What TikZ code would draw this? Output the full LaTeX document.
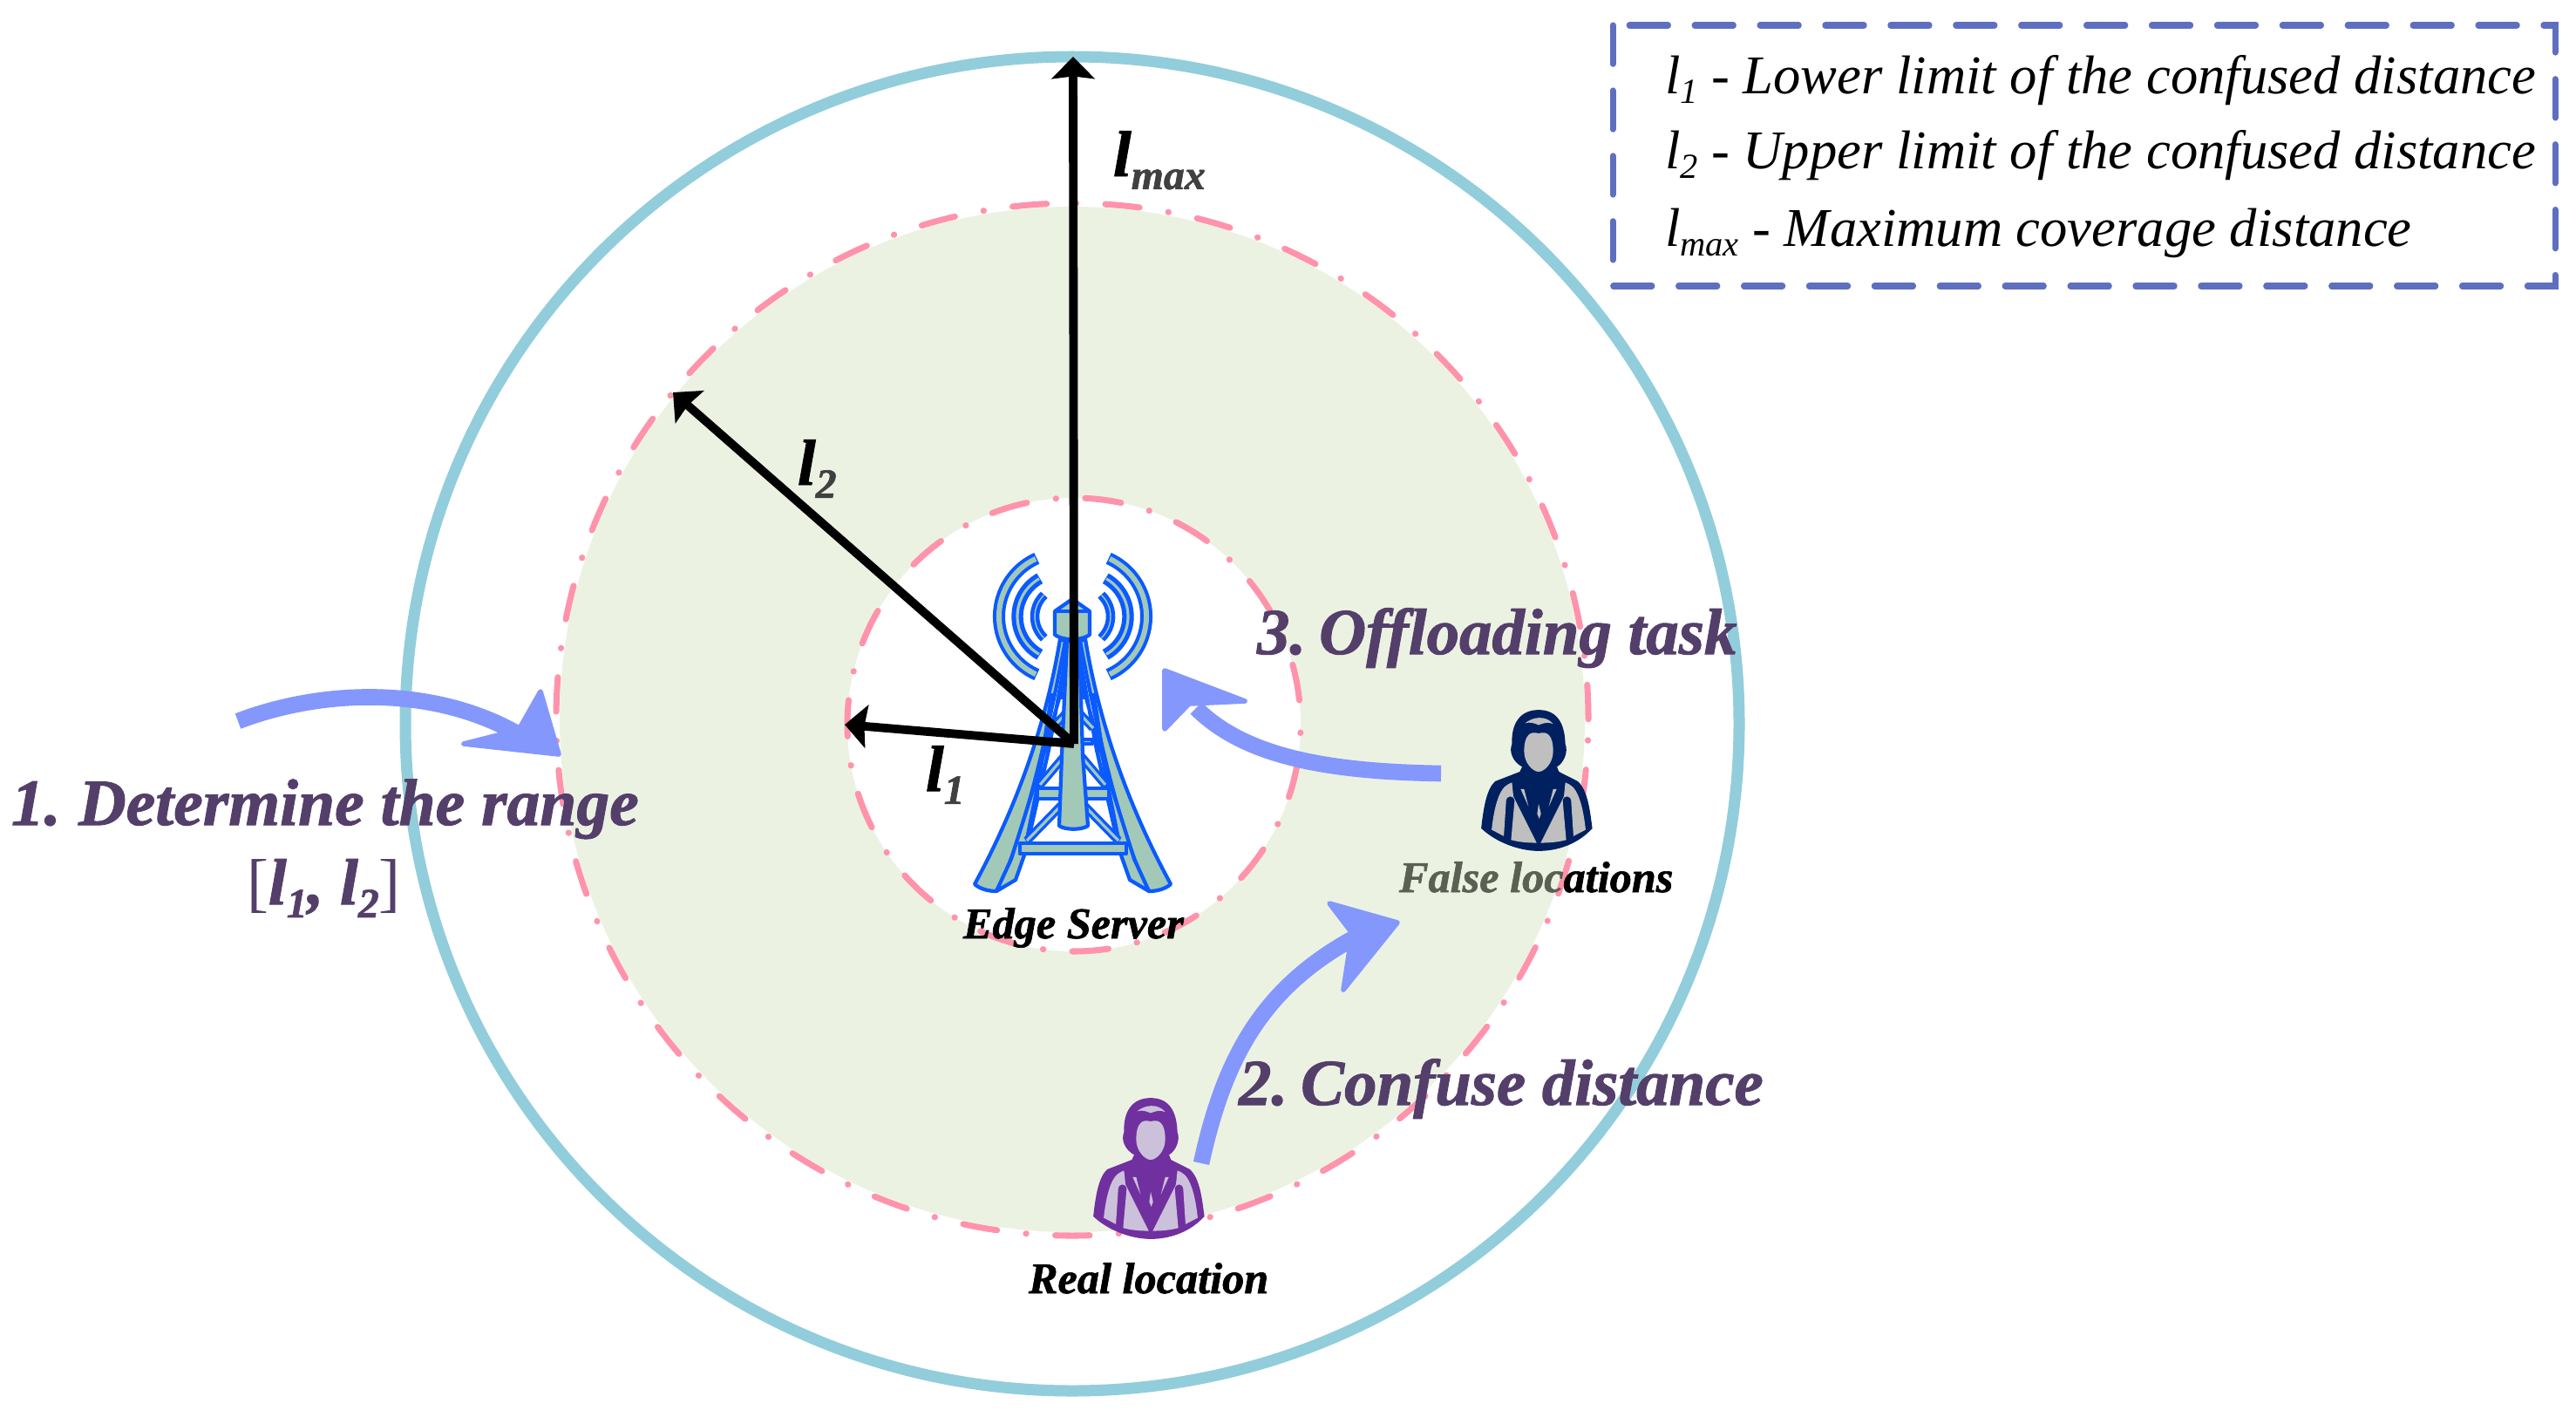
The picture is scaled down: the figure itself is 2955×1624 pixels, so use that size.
\documentclass[tikz,border=0pt]{standalone}
\usepackage{fontspec}
\setmainfont[BoldItalicFeatures={FakeBold=1.3}]{Liberation Serif}
\usetikzlibrary{arrows.meta}
\definecolor{ringblue}{HTML}{92CDDC}
\definecolor{ringpink}{HTML}{FF93AC}
\definecolor{zonegreen}{HTML}{ECF2E2}
\definecolor{flowblue}{HTML}{8497FC}
\definecolor{stepink}{HTML}{543F6B}
\definecolor{legendblue}{HTML}{5F6FBF}
\definecolor{subgrey}{HTML}{404040}
\definecolor{towerblue}{HTML}{0A5AFF}
\definecolor{towergreen}{HTML}{A2C8B8}
\definecolor{navyman}{HTML}{002060}
\definecolor{greyman}{HTML}{BFBFBF}
\definecolor{purpleman}{HTML}{7030A0}
\definecolor{lilacman}{HTML}{CCC1DA}
\definecolor{falsegrey}{HTML}{5A6052}
\tikzset{
  txt/.style={inner sep=0pt,outer sep=0pt,anchor=base west},
  stepfont/.style={txt,text=stepink,font=\fontsize{21.3}{25}\selectfont\bfseries\itshape},
  tagfont/.style={txt,text=black,font=\fontsize{14.3}{18}\selectfont\bfseries\itshape},
  legfont/.style={txt,text=black,font=\fontsize{17.8}{22}\selectfont\itshape},
  radius arrow/.style={line width=2.8pt,-{Stealth[length=7.2pt,width=14pt,inset=.8pt]}},
  flow/.style={line width=5.3pt,flowblue},
  flowhead/.style={fill=flowblue,draw=flowblue,line width=1.6pt,line join=round},
  tw/.style={fill=towergreen,draw=towerblue,line width=1.2pt,line join=round},
  twb/.style={draw=towerblue,line width=1.2pt},
}
\newcommand{\syml}[1]{\textbf{\textit{l}}{\raisebox{-.2em}{\fontsize{13.6}{15}\selectfont\bfseries\itshape\color{subgrey}#1}}}
\newcommand{\legl}[1]{\textit{l}{\raisebox{-.18em}{\fontsize{11.5}{13}\selectfont\itshape #1}}}
\newcommand{\stepl}[1]{\textbf{\textit{l}}{\raisebox{-.2em}{\fontsize{13.6}{15}\selectfont\bfseries\itshape #1}}}
\newcommand{\towerhalf}{%
  \path[tw] (1216,733) .. controls (1205,800) and (1180,900) .. (1118,1014)
    .. controls (1125,1020) and (1135,1022) .. (1143,1022)
    .. controls (1165,985) and (1195,880) .. (1222,735) -- cycle;
  \path[tw] (1143,1022) -- (1165,1009) -- (1177,975) -- (1203,860) -- (1224,745) -- (1218,790) -- (1190,890) -- (1160,985) -- cycle;
  \draw[twb,line width=1.4pt] (1207,795) -- (1190,904) -- (1178,964);
  \foreach \ax/\ay/\bx/\by in {1178/964/1217/924,1193/900/1222/866,1207/835/1223/818}{
    \draw[towerblue,line width=2.8pt] (\ax,\ay) -- (\bx,\by);
    \draw[towergreen,line width=.9pt] (\ax,\ay) -- (\bx,\by);
  }
  \path[tw] (1190,904) rectangle (1218,916);
  \path[tw] (1240,848) rectangle (1253,853);
  \path[tw] (1217,795) rectangle (1226,800);
  \foreach \cx/\r/\a/\w/\g in {1219/73/66/4/1.7,1217/50/61/3.8/.9,1221/34/47/3/.4}{
    \draw[towerblue,line width=\w pt] (\cx,707) ++(180-\a:\r) arc[start angle=180-\a,end angle=180+\a,radius=\r];
    \draw[towergreen,line width=\g pt] (\cx,707) ++(181-\a:\r) arc[start angle=181-\a,end angle=179+\a,radius=\r];
  }
}
\newcommand{\personfig}[4]{%
  \begin{scope}[shift={(#1,#2)},x=0.00333cm,y=-0.00333cm,shift={(-255,-300)}]
    \fill[#3] (255,72) .. controls (320,72) and (345,120) .. (347,190)
      .. controls (358,215) and (342,255) .. (318,268) -- (325,285)
      -- (390,318) .. controls (425,350) and (432,420) .. (440,480)
      .. controls (390,535) and (320,558) .. (255,558)
      .. controls (190,558) and (110,530) .. (57,480)
      .. controls (65,410) and (75,345) .. (105,318) -- (190,285) -- (198,268)
      .. controls (165,250) and (152,215) .. (163,190)
      .. controls (160,120) and (190,72) .. (255,72) -- cycle;
    \fill[#4] (255,153) .. controls (285,143) and (305,160) .. (305,215)
      .. controls (305,255) and (275,285) .. (255,285)
      .. controls (235,285) and (205,255) .. (205,215)
      .. controls (205,160) and (225,143) .. (255,153) -- cycle;
    \fill[#4] (208,118) .. controls (235,95) and (280,90) .. (305,120)
      .. controls (285,112) and (270,118) .. (255,124) .. controls (240,118) and (225,112) .. (208,118) -- cycle;
    \foreach \sx/\sc in {1/0,-1/510}{
      \begin{scope}[xscale=\sx,shift={(\sc*\sx,0)}]
        \fill[#4] (150,328) .. controls (115,345) and (100,420) .. (93,485)
          -- (135,507) -- (143,385) .. controls (145,365) and (170,365) .. (172,385)
          -- (160,520) .. controls (190,528) and (220,530) .. (248,530) -- (168,370) -- (163,322) -- cycle;
        \fill[#4] (193,345) -- (205,345) -- (220,405) -- cycle;
      \end{scope}
    }
    \fill[#4] (255,395) -- (263,430) -- (257,447) -- (250,430) -- cycle;
  \end{scope}
}
\begin{document}
\begin{tikzpicture}[x=0.01cm,y=-0.01cm]
\useasboundingbox (0,0) rectangle (2955,1624);
\fill[white] (0,0) rectangle (2955,1624);
% named anchors
\coordinate (hub) at (1232,853);
\coordinate (tipmax) at (1231,65);
\coordinate (tiptwo) at (772,450);
\coordinate (tipone) at (969,831);
% rings
\draw[ringblue,line width=3.7pt] (1230,830) circle[radius=765];
\path[fill=zonegreen] (1230,825) circle[radius=588];
\draw[ringpink,line width=2pt,line cap=round,dash pattern=on 11.2pt off 9.5pt on .1pt off 9.5pt,dash phase=13.9pt] (1230,825) circle[radius=592];
\path[fill=white] (1232,831) circle[radius=260];
\draw[ringpink,line width=2pt,line cap=round,dash pattern=on 11.8pt off 9.5pt on .1pt off 9.5pt,dash phase=18.7pt] (1232,831) circle[radius=260];
% tower
\towerhalf
\begin{scope}[shift={(2461,0)},xscale=-1]
\towerhalf
\end{scope}
\path[tw] (1170,967) rectangle (1292,979);
\path[tw] (1244,904) rectangle (1272,916);
\path[tw] (1224,735) -- (1218,866) -- (1215,947) .. controls (1222,952) and (1241,952) .. (1248,947) -- (1242,866) -- (1238,735) -- cycle;
\path[tw] (1210,701) -- (1230,687) -- (1250,701) -- (1250,728) .. controls (1240,735) and (1220,735) .. (1210,728) -- cycle;
\draw[twb] (1210,701) -- (1250,701);
% people
\personfig{1765}{890}{navyman}{greyman}
\personfig{1320}{1335}{purpleman}{lilacman}
% flow arrows
\draw[flow] (273,827) .. controls (370,790) and (500,785) .. (600,845);
\path[flowhead] (641,865) -- (620,793) -- (595,837) -- (532,853) -- cycle;
\draw[flow] (1653,887) .. controls (1530,885) and (1430,870) .. (1372,812);
\path[flowhead] (1336,769) -- (1428,804) -- (1364,807) -- (1336,836) -- cycle;
\draw[flow] (1378,1334) .. controls (1405,1210) and (1450,1130) .. (1560,1072);
\path[flowhead] (1603,1058) -- (1525,1036) -- (1551,1070) -- (1541,1135) -- cycle;
% radii
\draw[radius arrow] (hub) -- (tipmax);
\draw[radius arrow] (hub) -- (tiptwo);
\draw[radius arrow] (hub) -- (tipone);
% symbol labels
\node[txt,font=\fontsize{21.2}{25}\selectfont] (lmaxlabel) at (1277,202) {\syml{max}};
\node[txt,font=\fontsize{21.2}{25}\selectfont] (ltwolabel) at (915,556) {\syml{2}};
\node[txt,font=\fontsize{21.2}{25}\selectfont] (lonelabel) at (1062,907) {\syml{1}};
% step labels
\node[stepfont,font=\fontsize{21.5}{25}\selectfont\bfseries\itshape] (stepone) at (13,946) {1.\hspace{.27em}Determine the range};
\node[stepfont] (steponeb) at (283,1037) {{\mdseries\upshape[}\stepl{1}, \stepl{2}{\mdseries\upshape]}};
\node[stepfont] (steptwo) at (1421,1267) {2.\hspace{.2em}Confuse distance};
\node[stepfont] (stepthree) at (1442,750) {3.\hspace{.2em}Offloading task};
% tags
\node[tagfont] (edgetag) at (1105,1076) {Edge Server};
\node[tagfont] (falsetag) at (1605,1023) {\textcolor{falsegrey}{False loc}ations};
\node[tagfont] (realtag) at (1180,1483) {Real location};
% legend
\draw[legendblue,line width=2pt,line cap=round,dash pattern=on 12.6pt off 8.7pt] (1850,29) rectangle (2931,328);
\node[legfont] (legone) at (1910,107) {\legl{1} - Lower limit of the confused distance};
\node[legfont] (legtwo) at (1910,193) {\legl{2} - Upper limit of the confused distance};
\node[legfont] (legthree) at (1910,282) {\legl{max} - Maximum coverage distance};
\end{tikzpicture}
\end{document}
